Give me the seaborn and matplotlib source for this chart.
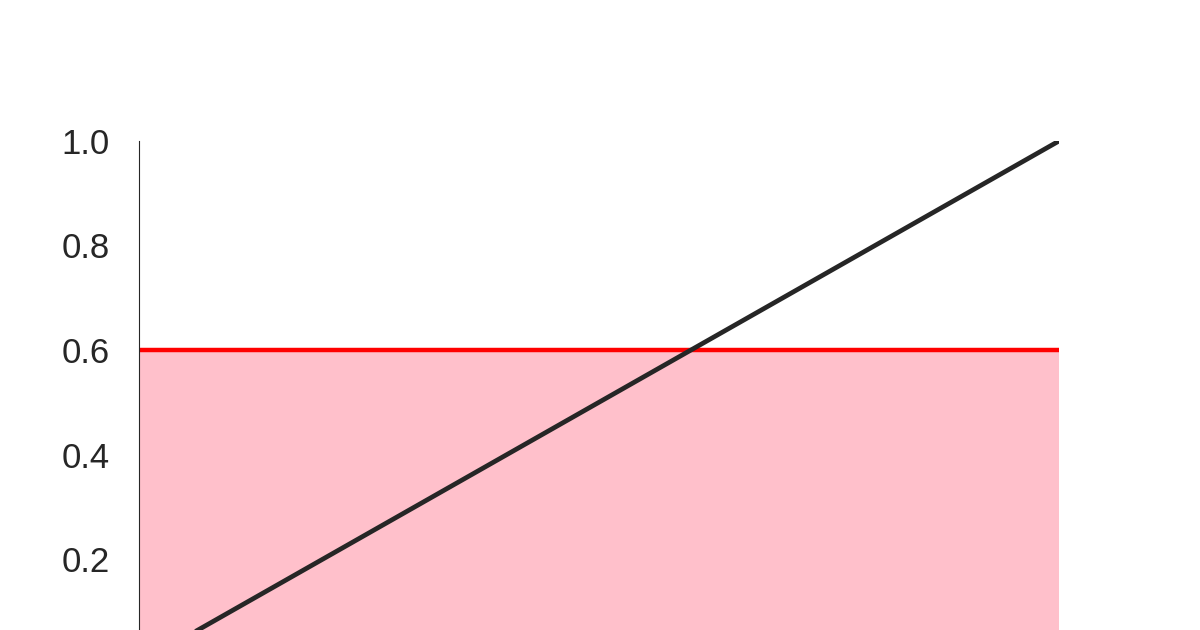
import matplotlib
matplotlib.use("Agg")
import matplotlib.pyplot as plt
import seaborn as sns
import pandas as pd

x_vals = [0.0, 1.0]
y_vals = [0.0, 1.0]
threshold = 0.6
y_ticks = [0.2, 0.4, 0.6, 0.8, 1.0]
y_tick_labels = ["0.2", "0.4", "0.6", "0.8", "1.0"]

sns.set_theme(style="white")
plt.rcParams['font.family'] = ['Liberation Sans', 'DejaVu Sans']

fig = plt.figure(figsize=(12, 6.3), dpi=100)
ax = fig.add_axes([139/1200, -0.0532, 920/1200, 0.8294])

df = pd.DataFrame({"x": x_vals, "y": y_vals})
ax.fill_between([0, 1], 0, threshold, color="pink", linewidth=0, zorder=1)
ax.axhline(threshold, color="red", linewidth=3.2, zorder=2)
sns.lineplot(data=df, x="x", y="y", ax=ax, color="#262626", linewidth=3.4,
             solid_capstyle="round", zorder=3)

ax.set_xlim(0, 1)
ax.set_ylim(0, 1)
ax.set_yticks(y_ticks)
ax.set_yticklabels(y_tick_labels)
ax.set_xticks([])
ax.set_xlabel("")
ax.set_ylabel("")
ax.tick_params(axis="y", length=0, pad=21, labelsize=25, labelcolor="#262626")
for s in ["top", "right", "bottom"]:
    ax.spines[s].set_visible(False)
ax.spines["left"].set_color("#262626")
ax.spines["left"].set_linewidth(0.8)

fig.savefig("out.png", dpi=100)
